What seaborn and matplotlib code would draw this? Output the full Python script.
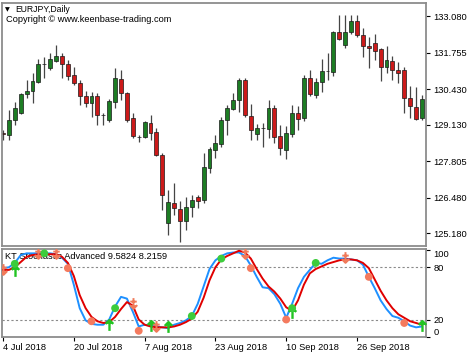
import numpy as np
import matplotlib
matplotlib.use("Agg")
import matplotlib.pyplot as plt
import seaborn as sns
from matplotlib.path import Path

# ---------------- data ----------------
opens = [128.84, 128.75, 129.29, 129.55, 130.24, 130.35, 130.67, 131.35, 131.18, 131.44,
         131.62, 131.36, 130.93, 130.64, 130.16, 129.91, 130.16, 129.48, 129.29, 129.95,
         130.78, 130.27, 129.37, 128.68, 128.67, 129.18, 128.86, 128.02, 125.55, 126.28,
         126.06, 125.63, 126.13, 126.50, 126.39, 127.55, 128.20, 128.42, 129.29, 129.69,
         130.02, 130.75, 129.44, 128.78, 129.00, 128.97, 129.73, 128.71, 128.20, 128.78,
         129.55, 129.37, 130.85, 130.20, 130.67, 131.07, 131.04, 132.49, 132.02, 132.49,
         132.92, 132.38, 131.98, 132.09, 131.87, 131.22, 131.44, 131.14, 131.11, 130.09,
         129.77, 129.37]
highs = [128.93, 129.66, 129.95, 130.27, 130.75, 131.00, 131.54, 131.58, 131.73, 132.02,
         131.76, 131.47, 131.22, 130.75, 130.35, 130.31, 130.27, 129.55, 130.06, 131.18,
         131.11, 130.31, 129.55, 128.75, 129.26, 129.47, 129.00, 128.09, 126.75, 127.00,
         126.35, 126.50, 126.57, 126.57, 128.09, 128.31, 128.75, 129.40, 129.84, 130.27,
         130.85, 130.85, 129.87, 129.15, 129.18, 130.02, 129.84, 129.11, 129.07, 129.84,
         129.80, 130.93, 131.14, 130.85, 131.51, 131.73, 132.56, 133.14, 133.11, 133.11,
         133.11, 132.67, 132.31, 132.45, 131.94, 131.98, 131.65, 131.40, 131.22, 130.53,
         130.49, 130.20]
lows = [128.57, 128.57, 129.11, 129.51, 130.09, 129.91, 130.64, 130.82, 131.11, 131.40,
        130.85, 130.75, 130.56, 129.84, 129.77, 129.40, 129.11, 129.11, 129.22, 129.73,
        130.02, 129.22, 128.64, 128.49, 128.64, 128.57, 128.00, 126.03, 125.12, 125.85,
        124.86, 125.30, 125.77, 126.10, 126.28, 127.37, 127.91, 128.31, 128.75, 129.66,
        129.58, 129.40, 128.57, 128.57, 128.31, 128.64, 128.46, 128.02, 127.88, 128.67,
        128.93, 129.26, 130.16, 130.09, 130.31, 130.75, 130.89, 132.20, 131.91, 132.45,
        132.31, 131.58, 131.18, 131.47, 130.71, 131.00, 130.75, 130.64, 129.55, 129.37,
        129.29, 129.29]
closes = [128.80, 129.29, 129.73, 130.24, 130.35, 130.71, 131.36, 131.33, 131.51, 131.65,
          131.36, 130.89, 130.64, 130.16, 129.91, 130.16, 129.47, 129.47, 129.98, 130.82,
          130.27, 129.29, 128.71, 128.67, 129.22, 128.82, 128.02, 126.57, 126.31, 126.10,
          125.63, 126.13, 126.39, 126.35, 127.59, 128.24, 128.46, 129.29, 129.73, 130.02,
          130.75, 129.47, 128.93, 129.00, 129.01, 129.73, 128.67, 128.28, 128.82, 129.55,
          129.33, 130.85, 130.24, 130.67, 131.07, 131.08, 132.49, 132.27, 132.52, 132.92,
          132.38, 131.98, 131.91, 131.83, 131.22, 131.47, 131.14, 131.00, 130.09, 129.80,
          129.33, 130.06]

stoch_k = [79, 80, 85, 94, 96, 96, 96, 96, 96, 95, 91, 84, 60, 33, 19, 15, 14, 14, 20, 35,
           46, 44, 29, 12, 14, 13, 12, 11, 10, 14, 16, 19, 24, 38, 58, 78, 88, 93, 96, 97,
           97, 93, 82, 69, 57, 56, 49, 38, 22, 38, 56, 69, 77, 85, 84, 88, 91, 90, 90, 89,
           88, 83, 69, 56, 42, 32, 24, 22, 18, 13, 11, 12]
stoch_d = [77, 77, 80, 86, 92, 94, 95, 95, 95, 95, 92, 85, 70, 48, 33, 23, 18, 16, 17, 23,
           32, 40, 36, 20, 14, 12, 11, 11, 11, 12, 14, 17, 21, 29, 45, 65, 80, 89, 93, 96,
           99, 97, 90, 78, 67, 58, 52, 44, 34, 30, 42, 60, 73, 78, 81, 84, 86, 88, 89, 89,
           88, 85, 79, 66, 53, 42, 33, 26, 22, 18, 16, 14]

green_dot_bar = [2, 7, 19, 32, 37, 49, 53]
green_dot_val = [84, 96, 33, 24, 90, 33, 85]
red_dot_bar = [11, 15, 23, 42, 48, 62, 68]
red_dot_val = [79, 18, 7, 79, 20, 69, 16]
up_arrow_bar = [2, 18, 25, 28, 49, 71]
up_arrow_val = [76, 14, 12, 11, 27, 12]
down_arrow_bar = [0, 6, 9, 22, 26, 41, 58]
down_arrow_val = [78, 96, 96, 39, 13, 96, 92]

date_tick_bars = [0, 12, 24, 36, 48, 60]
date_tick_labels = ["4 Jul 2018", "20 Jul 2018", "7 Aug 2018", "23 Aug 2018",
                    "10 Sep 2018", "26 Sep 2018"]
price_ticks = [133.080, 131.755, 130.430, 129.130, 127.805, 126.480, 125.180]
price_tick_labels = ["133.080", "131.755", "130.430", "129.130", "127.805", "126.480", "125.180"]
osc_ticks = [100, 80, 20, 0]
osc_levels = [80, 20]

# ---------------- style ----------------
sns.set_theme(style="white")
plt.rcParams["font.family"] = ["Liberation Sans", "DejaVu Sans"]
FS = 6.7
W, H = 474, 355

fig = plt.figure(figsize=(W / 100, H / 100), dpi=100)
ax1 = fig.add_axes([2 / W, 1 - 246 / H, 424 / W, 243.5 / H])
ax2 = fig.add_axes([2 / W, 1 - 337 / H, 424 / W, 88 / H])

bars = np.arange(len(opens))
o = np.array(opens); c = np.array(closes)
up = c >= o
body_bottom = np.minimum(o, c)
body_h = np.maximum(np.abs(c - o), 0.004)

ax1.vlines(bars, lows, highs, color="#454545", lw=0.9, zorder=1)
ax1.bar(bars[up], body_h[up], bottom=body_bottom[up], width=0.66,
        color="#1d7d24", edgecolor="#1a1a1a", linewidth=0.5, zorder=2)
ax1.bar(bars[~up], body_h[~up], bottom=body_bottom[~up], width=0.66,
        color="#cc1a1a", edgecolor="#1a1a1a", linewidth=0.5, zorder=2)

ax1.set_xlim(-0.17, 71.69)
ax1.set_ylim(124.72, 133.58)
ax1.set_xticks([])
ax1.yaxis.tick_right()
ax1.set_yticks(price_ticks)
ax1.set_yticklabels(price_tick_labels)
ax1.tick_params(axis="y", right=True, length=3, width=0.8, color="#000000",
                pad=2.5, labelsize=FS, labelcolor="#000000")

# oscillator
sns.lineplot(x=bars, y=stoch_k, ax=ax2, color="#1e90ff", lw=1.4, zorder=3)
sns.lineplot(x=bars, y=stoch_d, ax=ax2, color="#e00000", lw=1.4, zorder=4)
for lv in osc_levels:
    ax2.axhline(lv, color="#8a8a8a", lw=0.8, ls=(0, (2, 2)), zorder=1)

up_path = Path([(0, -1), (0, 1), (-0.7, 0.3), (0, 1), (0.7, 0.3)],
               [Path.MOVETO, Path.LINETO, Path.MOVETO, Path.LINETO, Path.LINETO])
down_path = Path([(0, 1), (0, -1), (-0.7, -0.3), (0, -1), (0.7, -0.3), (-0.6, 0.35), (0.6, 0.35)],
                 [Path.MOVETO, Path.LINETO, Path.MOVETO, Path.LINETO, Path.LINETO,
                  Path.MOVETO, Path.LINETO])

ax2.scatter(up_arrow_bar, up_arrow_val, marker=up_path, s=60, color="#22c322",
            linewidths=1.7, zorder=6)
ax2.scatter(down_arrow_bar, down_arrow_val, marker=down_path, s=60, color="#f07a5a",
            linewidths=1.4, zorder=6)
sns.scatterplot(x=green_dot_bar, y=green_dot_val, ax=ax2, s=32, color="#3ccc3c",
                edgecolor="none", zorder=7)
sns.scatterplot(x=red_dot_bar, y=red_dot_val, ax=ax2, s=32, color="#f47a5e",
                edgecolor="none", zorder=7)

ax2.set_xlim(-0.17, 71.69)
ax2.set_ylim(-0.1, 101)
ax2.yaxis.tick_right()
ax2.set_yticks(osc_ticks)
ax2.set_yticklabels([str(t) for t in osc_ticks])
ax2.tick_params(axis="y", right=True, length=3, width=0.8, color="#000000",
                pad=2.5, labelsize=FS, labelcolor="#000000")
for lab, t in zip(ax2.get_yticklabels(), osc_ticks):
    if t == 100:
        lab.set_va("top")
    elif t == 0:
        lab.set_va("bottom")
ax2.set_xticks(date_tick_bars)
ax2.set_xticklabels(date_tick_labels)
ax2.tick_params(axis="x", bottom=True, length=3, width=0.8, color="#000000",
                pad=1.5, labelsize=FS, labelcolor="#000000")
for lab in ax2.get_xticklabels():
    lab.set_ha("left")
ax2.set_xlabel("")
ax2.set_ylabel("")

for ax in (ax1, ax2):
    for sp in ax.spines.values():
        sp.set_color("#8c8c8c")
        sp.set_linewidth(1.3)
        sp.set_visible(True)
    ax.grid(False)
    ax.set_facecolor("white")

# texts
fig.text(5 / W, 1 - 9.3 / H, "▼", fontsize=4.5, va="center", ha="left",
         family=["DejaVu Sans"], color="#000000")
fig.text(15 / W, 1 - 9.3 / H, "EURJPY,Daily", fontsize=6.2, va="center", ha="left", color="#000000")
fig.text(6 / W, 1 - 19.3 / H, "Copyright © www.keenbase-trading.com", fontsize=FS,
         va="center", ha="left", color="#000000")
ax2.text(5 / W, 1 - 256.7 / H, "KT Stochastic Advanced 9.5824 8.2159", transform=fig.transFigure,
         fontsize=FS, va="center", ha="left", color="#000000", zorder=2)

fig.savefig("out.png", dpi=100)
